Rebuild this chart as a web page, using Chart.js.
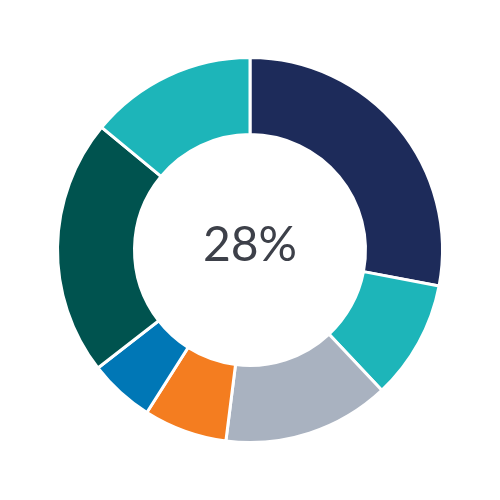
<!DOCTYPE html>
<html>
<head>
<meta charset="utf-8">
<script src="https://cdn.jsdelivr.net/npm/chart.js@4/dist/chart.umd.min.js"></script>
<style>
  html, body { margin: 0; padding: 0; background: #fff; }
  #wrap { width: 500px; height: 500px; }
</style>
</head>
<body>
<div id="wrap"><canvas id="donut"></canvas></div>
<script>
const labels = ["A", "B", "C", "D", "E", "F", "G"];
const values = [28, 10, 14, 7, 5.5, 21.5, 14];
const colors = ["#1d2b5a", "#1db5b9", "#a9b2c0", "#f47d20", "#0077b6", "#00534f", "#1db5b9"];
const centerText = "28%";

const centerLabel = {
  id: "centerLabel",
  afterDraw(chart) {
    const ctx = chart.ctx;
    const meta = chart.getDatasetMeta(0).data[0];
    ctx.save();
    ctx.font = "48px Lato";
    ctx.fillStyle = "#3d4049";
    ctx.textAlign = "center";
    ctx.textBaseline = "middle";
    ctx.fillText(centerText, meta.x, meta.y - 4);
    ctx.restore();
  }
};

new Chart(document.getElementById("donut"), {
  type: "doughnut",
  data: {
    labels: labels,
    datasets: [{
      data: values,
      backgroundColor: colors,
      borderColor: "#ffffff",
      borderWidth: 3
    }]
  },
  options: {
    responsive: true,
    maintainAspectRatio: false,
    animation: false,
    cutout: "60%",
    layout: { padding: 56 },
    plugins: {
      legend: { display: false },
      tooltip: { enabled: false }
    }
  },
  plugins: [centerLabel]
});
</script>
</body>
</html>
